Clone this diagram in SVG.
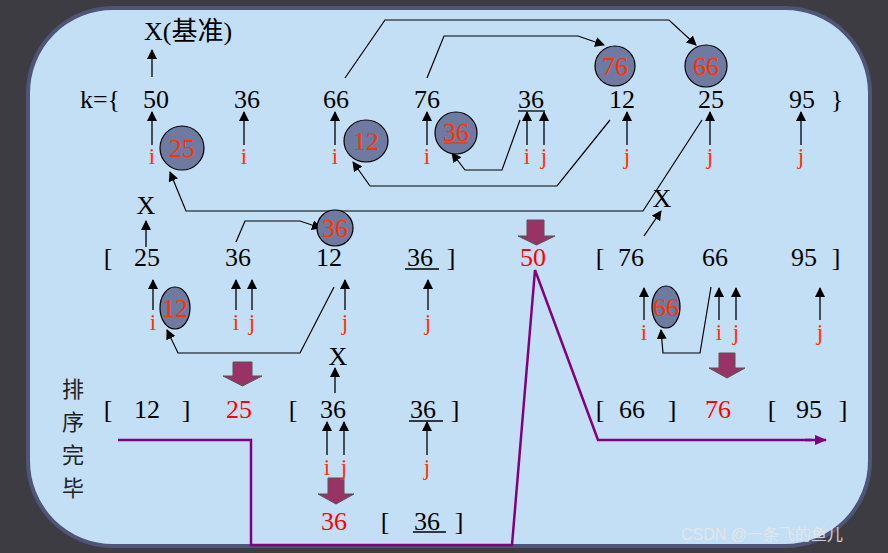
<svg xmlns="http://www.w3.org/2000/svg" width="888" height="553" viewBox="0 0 888 553">
<defs>
<marker id="a" markerWidth="10" markerHeight="10" refX="9" refY="5" orient="auto" markerUnits="userSpaceOnUse"><path d="M0,0 L10,5 L0,10 z" fill="#000"/></marker>
<marker id="p" markerWidth="12" markerHeight="10" refX="11" refY="5" orient="auto" markerUnits="userSpaceOnUse"><path d="M0,0 L12,5 L0,10 z" fill="#800080"/></marker>
</defs>
<style>
text{font-family:'Liberation Serif','Times New Roman','Noto Sans CJK SC',serif;font-size:26px;fill:#000;text-anchor:middle}
.r{fill:#ff0000}
.l{fill:#ff3300;font-size:23px}
.c{fill:#6f7aa0;stroke:#000;stroke-width:1.2}
.ct{fill:#ff3300}
.ln{fill:none;stroke:#000;stroke-width:1.2}
.ar{stroke:#000;stroke-width:1.3;marker-end:url(#a)}
.u{stroke:#000;stroke-width:1.3}
.b{fill:#993366;stroke:#555;stroke-width:1}
.pp{fill:none;stroke:#800080;stroke-width:2.5}
.cj{font-size:22px;fill:#222}
</style>
<rect width="888" height="553" fill="#3c3c42"/>
<rect x="28" y="8" width="842" height="538" rx="85" fill="#c3dff5" stroke="#4e5577" stroke-width="4"/>
<g id="row1">
<text x="188" y="40">X(基准)</text>
<text x="100" y="108">k={</text>
<text x="156" y="108">50</text><text x="247" y="108">36</text><text x="336" y="108">66</text><text x="427" y="108">76</text>
<text x="531" y="108">36</text><line class="u" x1="518" y1="111" x2="545" y2="111"/>
<text x="622" y="108">12</text><text x="711" y="108">25</text><text x="802" y="108">95</text><text x="837" y="108">}</text>
</g>
<g id="connectors">
<line class="ar" x1="152" y1="77" x2="152" y2="50"/>
<line class="ar" x1="152" y1="145" x2="152" y2="112"/>
<line class="ar" x1="244" y1="145" x2="244" y2="112"/>
<line class="ar" x1="335" y1="145" x2="335" y2="112"/>
<line class="ar" x1="427" y1="145" x2="427" y2="112"/>
<line class="ar" x1="527" y1="145" x2="527" y2="112"/>
<line class="ar" x1="544" y1="145" x2="544" y2="112"/>
<line class="ar" x1="627" y1="145" x2="627" y2="112"/>
<line class="ar" x1="710" y1="145" x2="710" y2="112"/>
<line class="ar" x1="801" y1="145" x2="801" y2="112"/>
<polyline class="ln" marker-end="url(#a)" points="345,78 385,20 669,20 696,45"/>
<polyline class="ln" marker-end="url(#a)" points="427,78 444,36 578,36 604,45"/>
<polyline class="ln" marker-end="url(#a)" points="520,120 502,170 465,170 452,153"/>
<polyline class="ln" marker-end="url(#a)" points="610,120 557,186 370,186 353,162"/>
<polyline class="ln" marker-end="url(#a)" points="702,120 643,211 186,211 170,172"/>
<line class="ar" x1="644" y1="236" x2="661" y2="211"/>
<line class="ar" x1="146" y1="247" x2="146" y2="221"/>
<polyline class="ln" marker-end="url(#a)" points="236,242 245,221 300,221 321,228"/>
<line class="ar" x1="153" y1="310" x2="153" y2="280"/>
<line class="ar" x1="236" y1="310" x2="236" y2="280"/>
<line class="ar" x1="252" y1="310" x2="252" y2="280"/>
<line class="ar" x1="345" y1="310" x2="345" y2="280"/>
<line class="ar" x1="428" y1="310" x2="428" y2="280"/>
<polyline class="ln" marker-end="url(#a)" points="334,287 300,353 178,353 167,330"/>
<line class="ar" x1="644" y1="320" x2="644" y2="288"/>
<line class="ar" x1="719" y1="320" x2="719" y2="288"/>
<line class="ar" x1="736" y1="320" x2="736" y2="288"/>
<line class="ar" x1="820" y1="320" x2="820" y2="288"/>
<polyline class="ln" marker-end="url(#a)" points="711,287 700,353 663,353 661,330"/>
<line class="ar" x1="335" y1="393" x2="335" y2="368"/>
<line class="ar" x1="327" y1="455" x2="327" y2="422"/>
<line class="ar" x1="344" y1="455" x2="344" y2="422"/>
<line class="ar" x1="427" y1="455" x2="427" y2="422"/>
<polyline class="pp" points="118,440 251,440 251,545 512,545 535,270 598,440 812,440"/>
<line class="pp" x1="805" y1="440" x2="826" y2="440" marker-end="url(#p)"/>
</g>
<g id="labels1">
<text class="l" x="152" y="164">i</text><text class="l" x="244" y="164">i</text><text class="l" x="335" y="164">i</text><text class="l" x="427" y="164">i</text>
<text class="l" x="527" y="164">i</text><text class="l" x="544" y="164">j</text><text class="l" x="627" y="164">j</text><text class="l" x="710" y="164">j</text><text class="l" x="801" y="164">j</text>
</g>
<g id="circles">
<circle class="c" cx="182" cy="148" r="22"/><text class="ct" x="182" y="157">25</text>
<ellipse class="c" cx="366" cy="141" rx="22" ry="21"/><text class="ct" x="366" y="150">12</text>
<circle class="c" cx="456" cy="133" r="21"/><text class="ct" x="456" y="141">36</text><line x1="444" y1="143" x2="468" y2="143" stroke="#ff3300" stroke-width="1.2"/>
<circle class="c" cx="615" cy="66" r="20"/><text class="ct" x="615" y="75">76</text>
<circle class="c" cx="706" cy="66" r="21"/><text class="ct" x="706" y="75">66</text>
<circle class="c" cx="335" cy="228" r="18"/><text class="ct" x="335" y="237">36</text>
<ellipse class="c" cx="175" cy="308" rx="15" ry="21"/><text class="ct" x="175" y="317">12</text>
<ellipse class="c" cx="666" cy="307" rx="14" ry="21"/><text class="ct" x="666" y="316">66</text>
</g>
<g id="row2">
<text x="146" y="214">X</text><text x="662" y="207">X</text>
<text x="108" y="266">[</text><text x="147" y="266">25</text><text x="238" y="266">36</text><text x="329" y="266">12</text><text x="420" y="266">36</text><text x="451" y="266">]</text>
<line class="u" x1="405" y1="269" x2="439" y2="269"/>
<text class="l" x="153" y="330">i</text><text class="l" x="236" y="330">i</text><text class="l" x="252" y="330">j</text><text class="l" x="345" y="330">j</text><text class="l" x="428" y="330">j</text>
<text class="r" x="533" y="266">50</text>
<text x="600" y="266">[</text><text x="631" y="266">76</text><text x="715" y="266">66</text><text x="804" y="266">95</text><text x="836" y="266">]</text>
<text class="l" x="644" y="340">i</text><text class="l" x="719" y="340">i</text><text class="l" x="736" y="340">j</text><text class="l" x="820" y="340">j</text>
</g>
<g id="blocks">
<path class="b" d="M233,362 h19 v14 h10 l-19.5,10 l-19.5,-10 h10 z"/>
<path class="b" d="M527,220 h17 v16 h11 l-18.5,9 l-18.5,-9 h9 z"/>
<path class="b" d="M719,353 h16 v15 h10 l-18,10 l-18,-10 h10 z"/>
<path class="b" d="M328,478 h16 v16 h10 l-18,10 l-18,-10 h10 z"/>
</g>
<g id="row3">
<text class="cj" x="73" y="397">排</text><text class="cj" x="73" y="430">序</text><text class="cj" x="73" y="463">完</text><text class="cj" x="73" y="496">毕</text>
<text x="108" y="418">[</text><text x="147" y="418">12</text><text x="186" y="418">]</text><text class="r" x="239" y="418">25</text>
<text x="293" y="418">[</text><text x="333" y="418">36</text><text x="423" y="418">36</text><text x="455" y="418">]</text>
<line class="u" x1="409" y1="421" x2="443" y2="421"/>
<text x="338" y="365">X</text>
<text class="l" x="327" y="475">i</text><text class="l" x="344" y="475">j</text><text class="l" x="427" y="475">j</text>
<text class="r" x="334" y="530">36</text>
<text x="385" y="530">[</text><text x="427" y="530">36</text><text x="459" y="530">]</text>
<line class="u" x1="413" y1="532" x2="446" y2="532"/>
<text x="600" y="418">[</text><text x="632" y="418">66</text><text x="672" y="418">]</text><text class="r" x="718" y="418">76</text>
<text x="772" y="418">[</text><text x="809" y="418">95</text><text x="843" y="418">]</text>
</g>
<text x="762" y="540" style="font-family:'Liberation Sans','Noto Sans CJK SC',sans-serif;font-size:16px;fill:#e8e8e8;opacity:0.85">CSDN @一条飞的鱼儿</text>
</svg>
